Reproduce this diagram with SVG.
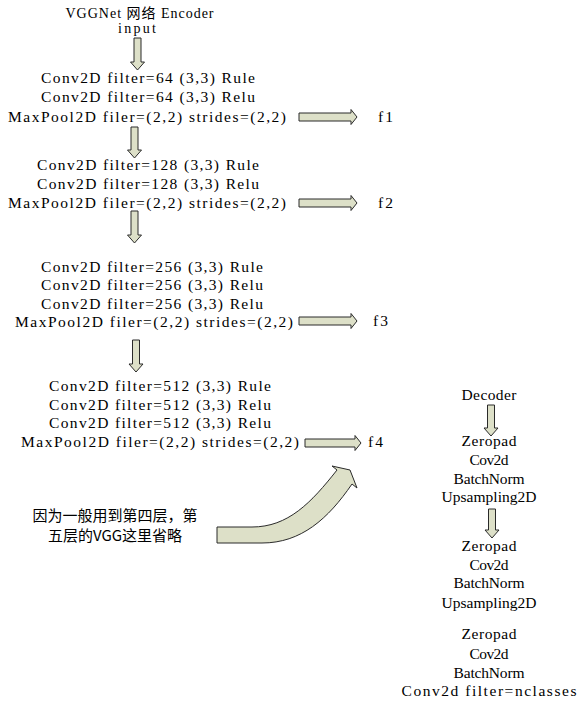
<svg xmlns="http://www.w3.org/2000/svg" width="584" height="708" viewBox="0 0 584 708">
<style>
.t{font-family:"Liberation Serif","Noto Sans CJK SC",serif;font-size:15.5px;fill:#000}
.m{text-anchor:middle}
.s{font-size:14px}
.cn{font-family:"Noto Sans CJK SC",sans-serif;font-size:15px;fill:#000;text-anchor:middle}
.ar{fill:#dde0c8;stroke:#2a2a2a;stroke-width:1;stroke-linejoin:miter}
</style>
<rect width="584" height="708" fill="#fff"/>
<g id="title">
<text class="t m s" x="139.5" y="17.5" textLength="148" lengthAdjust="spacing">VGGNet 网络 Encoder</text>
<text class="t m s" x="137" y="33" textLength="38" lengthAdjust="spacing">input</text>
</g>
<g id="block1">
<text class="t" x="41" y="83" textLength="214" lengthAdjust="spacing">Conv2D filter=64 (3,3) Rule</text>
<text class="t" x="41" y="102" textLength="214" lengthAdjust="spacing">Conv2D filter=64 (3,3) Relu</text>
<text class="t" x="8" y="122" textLength="278" lengthAdjust="spacing">MaxPool2D filer=(2,2) strides=(2,2)</text>
</g>
<g id="block2">
<text class="t" x="37" y="170" textLength="222" lengthAdjust="spacing">Conv2D filter=128 (3,3) Rule</text>
<text class="t" x="37" y="189" textLength="222" lengthAdjust="spacing">Conv2D filter=128 (3,3) Relu</text>
<text class="t" x="8" y="208" textLength="278" lengthAdjust="spacing">MaxPool2D filer=(2,2) strides=(2,2)</text>
</g>
<g id="block3">
<text class="t" x="41" y="272" textLength="222" lengthAdjust="spacing">Conv2D filter=256 (3,3) Rule</text>
<text class="t" x="41" y="290" textLength="222" lengthAdjust="spacing">Conv2D filter=256 (3,3) Relu</text>
<text class="t" x="41" y="309" textLength="222" lengthAdjust="spacing">Conv2D filter=256 (3,3) Relu</text>
<text class="t" x="15" y="327" textLength="278" lengthAdjust="spacing">MaxPool2D filer=(2,2) strides=(2,2)</text>
</g>
<g id="block4">
<text class="t" x="49" y="391" textLength="222" lengthAdjust="spacing">Conv2D filter=512 (3,3) Rule</text>
<text class="t" x="49" y="410" textLength="222" lengthAdjust="spacing">Conv2D filter=512 (3,3) Relu</text>
<text class="t" x="49" y="428" textLength="222" lengthAdjust="spacing">Conv2D filter=512 (3,3) Relu</text>
<text class="t" x="21" y="447" textLength="278" lengthAdjust="spacing">MaxPool2D filer=(2,2) strides=(2,2)</text>
</g>
<g id="outputs">
<text class="t" x="378" y="122" textLength="15" lengthAdjust="spacing">f1</text>
<text class="t" x="378" y="208" textLength="15" lengthAdjust="spacing">f2</text>
<text class="t" x="373" y="326" textLength="15" lengthAdjust="spacing">f3</text>
<text class="t" x="368" y="447" textLength="15" lengthAdjust="spacing">f4</text>
</g>
<g id="note">
<text class="cn" x="115" y="521">因为一般用到第四层，第</text>
<text class="cn" x="115" y="541">五层的VGG这里省略</text>
</g>
<g id="decoder">
<text class="t m" x="489" y="400" textLength="55" lengthAdjust="spacing">Decoder</text>
<text class="t m" x="489" y="446" textLength="55" lengthAdjust="spacing">Zeropad</text>
<text class="t m" x="489" y="465" textLength="39" lengthAdjust="spacing">Cov2d</text>
<text class="t m" x="489" y="484" textLength="71" lengthAdjust="spacing">BatchNorm</text>
<text class="t m" x="489" y="502" textLength="95" lengthAdjust="spacing">Upsampling2D</text>
<text class="t m" x="489" y="551" textLength="55" lengthAdjust="spacing">Zeropad</text>
<text class="t m" x="489" y="570" textLength="39" lengthAdjust="spacing">Cov2d</text>
<text class="t m" x="489" y="588" textLength="71" lengthAdjust="spacing">BatchNorm</text>
<text class="t m" x="489" y="608" textLength="95" lengthAdjust="spacing">Upsampling2D</text>
<text class="t m" x="489" y="639" textLength="55" lengthAdjust="spacing">Zeropad</text>
<text class="t m" x="489" y="659" textLength="39" lengthAdjust="spacing">Cov2d</text>
<text class="t m" x="489" y="678" textLength="71" lengthAdjust="spacing">BatchNorm</text>
<text class="t m" x="489" y="696" textLength="175" lengthAdjust="spacing">Conv2d filter=nclasses</text>
</g>
<g id="connectors">
<polygon class="ar" points="134,38 141,38 141,62 144.5,62 137.5,70 130.5,62 134,62"/>
<polygon class="ar" points="131,127 138,127 138,150 141.5,150 134.5,158 127.5,150 131,150"/>
<polygon class="ar" points="131,211 138,211 138,235 141.5,235 134.5,243 127.5,235 131,235"/>
<polygon class="ar" points="132.5,340 139.5,340 139.5,364 143,364 136,372 129,364 132.5,364"/>
<polygon class="ar" points="487.5,405 494.5,405 494.5,428 498,428 491,436 484,428 487.5,428"/>
<polygon class="ar" points="488.5,509 495.5,509 495.5,530 499,530 492,538 485,530 488.5,530"/>
<polygon class="ar" points="299,113 351,113 351,109.5 357,117 351,124.5 351,121 299,121"/>
<polygon class="ar" points="299,199 351,199 351,195.5 357,203 351,210.5 351,207 299,207"/>
<polygon class="ar" points="299,317 351,317 351,313.5 357,321 351,328.5 351,325 299,325"/>
<polygon class="ar" points="305,439 355,439 355,435.5 361,443 355,450.5 355,447 305,447"/>
<path class="ar" d="M217,527 L252,527 C288,527 311,503 337,470 L332,466 L350,470 L357,488 L352,484 C328,519 301,543 262,543 L217,543 Z"/>
</g>
</svg>
